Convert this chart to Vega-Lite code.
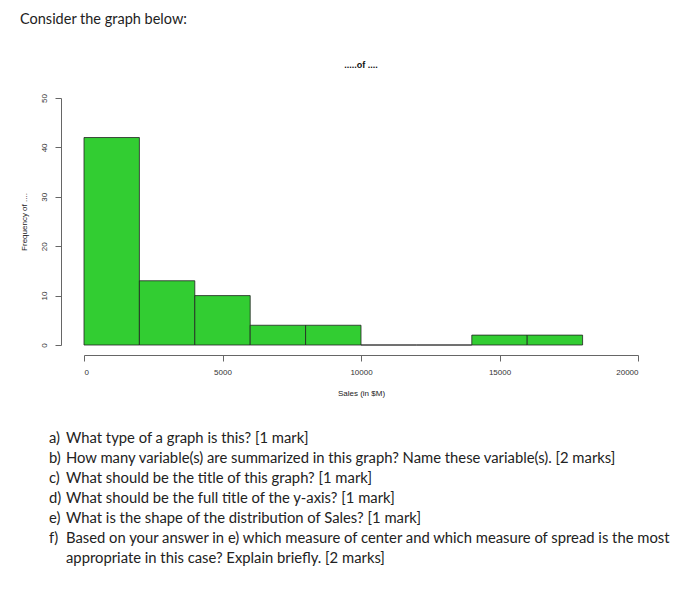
{
  "$schema": "https://vega.github.io/schema/vega-lite/v6.json",
  "description": "Histogram of sales with exam questions below.",
  "padding": {"left": 20, "top": 12, "right": 5, "bottom": 5},
  "background": "white",
  "title": {
    "text": "Consider the graph below:",
    "anchor": "start",
    "font": "Lato",
    "fontSize": 14.5,
    "fontWeight": "normal",
    "color": "#222",
    "offset": 33
  },
  "config": {
    "view": {"stroke": null}
  },
  "spacing": 32,
  "vconcat": [
    {
      "width": 554,
      "height": 247,
      "title": {
        "text": ".....of ....",
        "font": "Liberation Sans",
        "fontSize": 9,
        "fontWeight": "bold",
        "color": "#111",
        "offset": 24
      },
      "data": {
        "values": [
          {"start": 0, "end": 2000, "count": 42},
          {"start": 2000, "end": 4000, "count": 13},
          {"start": 4000, "end": 6000, "count": 10},
          {"start": 6000, "end": 8000, "count": 4},
          {"start": 8000, "end": 10000, "count": 4},
          {"start": 10000, "end": 12000, "count": 0},
          {"start": 12000, "end": 14000, "count": 0},
          {"start": 14000, "end": 16000, "count": 2},
          {"start": 16000, "end": 18000, "count": 2}
        ]
      },
      "mark": {"type": "bar", "fill": "#32CD32", "stroke": "#222", "strokeWidth": 0.8},
      "encoding": {
        "x": {
          "field": "start",
          "type": "quantitative",
          "scale": {"domain": [0, 20000], "nice": false},
          "axis": {
            "title": "Sales (in $M)",
            "values": [0, 5000, 10000, 15000, 20000],
            "format": "d",
            "grid": false,
            "offset": 10,
            "tickSize": 6,
            "labelPadding": 7,
            "labelFont": "Liberation Sans",
            "labelFontSize": 8,
            "labelColor": "#333",
            "titleFont": "Liberation Sans",
            "titleFontSize": 8,
            "titleFontWeight": "normal",
            "titleColor": "#222",
            "titlePadding": 13,
            "domainColor": "#666",
            "tickColor": "#666"
          }
        },
        "x2": {"field": "end"},
        "y": {
          "field": "count",
          "type": "quantitative",
          "stack": null,
          "scale": {"domain": [0, 50], "nice": false},
          "axis": {
            "title": "Frequency of ....",
            "values": [0, 10, 20, 30, 40, 50],
            "grid": false,
            "offset": 23,
            "tickSize": 6,
            "labelAngle": -90,
            "labelPadding": 7,
            "labelFont": "Liberation Sans",
            "labelFontSize": 8,
            "labelColor": "#333",
            "titleFont": "Liberation Sans",
            "titleFontSize": 8,
            "titleFontWeight": "normal",
            "titleColor": "#222",
            "titlePadding": 12,
            "domainColor": "#666",
            "tickColor": "#666"
          }
        },
        "y2": {"datum": 0}
      }
    },
    {
      "width": 554,
      "height": {"step": 20},
      "data": {
        "values": [
          {"line": 1, "label": "a)", "text": "What type of a graph is this? [1 mark]"},
          {"line": 2, "label": "b)", "text": "How many variable(s) are summarized in this graph? Name these variable(s). [2 marks]"},
          {"line": 3, "label": "c)", "text": "What should be the title of this graph? [1 mark]"},
          {"line": 4, "label": "d)", "text": "What should be the full title of the y-axis? [1 mark]"},
          {"line": 5, "label": "e)", "text": "What is the shape of the distribution of Sales? [1 mark]"},
          {"line": 6, "label": "f)", "text": "Based on your answer in e) which measure of center and which measure of spread is the most"},
          {"line": 7, "label": "", "text": "appropriate in this case? Explain briefly. [2 marks]"}
        ]
      },
      "encoding": {
        "x": {"datum": 0, "type": "quantitative", "scale": {"domain": [0, 1]}, "axis": null},
        "y": {"field": "line", "type": "ordinal", "axis": null}
      },
      "layer": [
        {
          "mark": {"type": "text", "align": "left", "dx": -35, "font": "Lato", "fontSize": 14.8, "color": "#222"},
          "encoding": {"text": {"field": "label"}}
        },
        {
          "mark": {"type": "text", "align": "left", "dx": -18, "font": "Lato", "fontSize": 14.8, "color": "#222"},
          "encoding": {"text": {"field": "text"}}
        }
      ]
    }
  ]
}
